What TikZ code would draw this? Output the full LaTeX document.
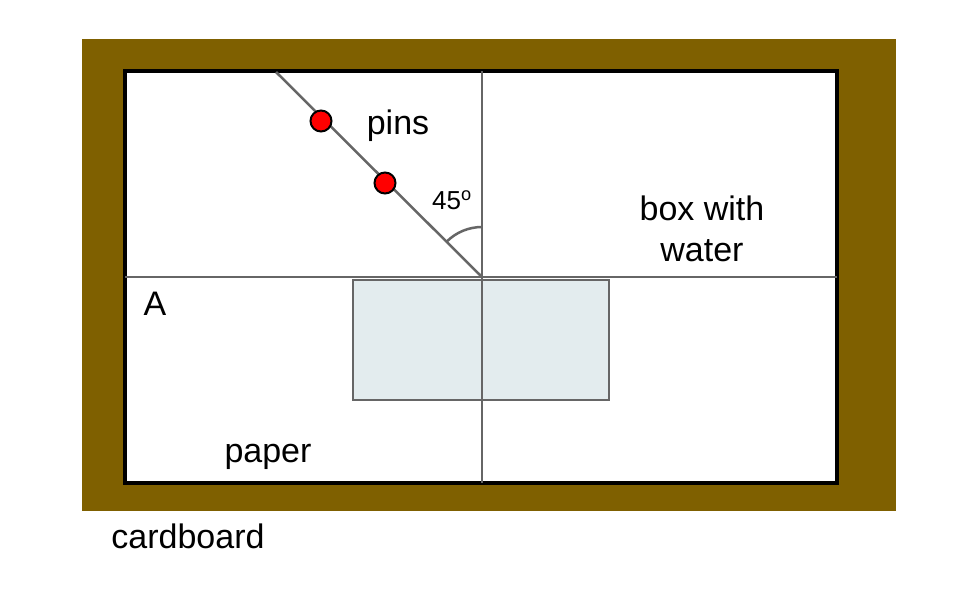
\documentclass[tikz,border=0pt]{standalone}
\usepackage{fontspec}
\setmainfont{Liberation Sans}
\usetikzlibrary{calc}
\begin{document}
\begin{tikzpicture}[x=1pt,y=-1pt,
  gl/.style={draw=black!60,line width=2.5pt},
  lbl/.style={font=\fontsize{34}{41}\selectfont,inner sep=0pt,align=center}]
\definecolor{card}{HTML}{7F6000}
\definecolor{boxc}{HTML}{E3ECEE}
\useasboundingbox (0,0) rectangle (961,595);
\fill[card] (82,39) rectangle (896,511);
\node[draw=black,line width=3.5pt,fill=white,minimum width=712pt,minimum height=412pt,inner sep=0pt] (paper) at (481,277) {};
\node[gl,fill=boxc,minimum width=256pt,minimum height=120pt,inner sep=0pt] (box) at (481,340) {};
\coordinate (o) at (482,277);
\draw[gl] (482,71) -- (482,483);
\draw[gl] (125,277) -- (837,277);
\coordinate (t) at (276,72);
\draw[gl] (t) -- (o);
\draw[gl] ($(o)+(0,-50)$) arc[start angle=-90,end angle=-135,radius=50];
\node[circle,draw=black,line width=2pt,fill=red,minimum size=21pt,inner sep=0pt] (p1) at (321,121) {};
\node[circle,draw=black,line width=2pt,fill=red,minimum size=21pt,inner sep=0pt] (p2) at (385,183) {};
\node[lbl] (pins) at (398,126) {pins};
\node[font=\fontsize{26}{28}\selectfont,inner sep=0pt] (ang) at (452,200) {45\textsuperscript{o}};
\node[lbl] (bw) at (702,229) {box with\\water};
\node[lbl] (A) at (155,304) {A};
\node[lbl] (pl) at (268,457) {paper};
\node[lbl] (cb) at (188,536) {cardboard};
\end{tikzpicture}
\end{document}
